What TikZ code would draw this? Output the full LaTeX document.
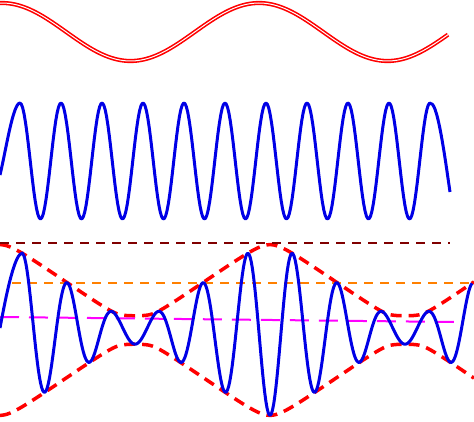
\documentclass[tikz,border=0pt]{standalone}
\usepackage{tikz}
\definecolor{wavered}{RGB}{255,0,0}
\definecolor{waveblue}{RGB}{0,0,230}
\definecolor{levelred}{RGB}{128,0,0}
\definecolor{levelorange}{RGB}{255,128,0}
\definecolor{levelmagenta}{RGB}{255,0,255}

\begin{document}
\begin{tikzpicture}[
    x=1pt, y=-1pt,
    declare function={envraw(\t)=47+48*asin(0.95*cos(4*\t/3))/90;
                      env(\t)=(envraw(\t)+13.5+sqrt((envraw(\t)-13.5)^2+16))/2;},
    modwave/.style={draw=wavered, line width=1.6pt, double=white, double distance=1pt},
    carrier/.style={draw=waveblue, line width=3pt, line join=round},
    envline/.style={draw=wavered, line width=3.5pt, dash pattern=on 11pt off 7pt},
    level/.style={draw=#1, line width=2pt, dash pattern=on 9pt off 7pt}
]
\useasboundingbox (0,0) rectangle (474,422);

% modulating signal
\draw[modwave] plot[domain=0:448, samples=150] (\x, {32 - 29*cos(1.4008*(\x-2))});

% carrier
\draw[carrier] (0,175) .. controls (6,150) and (13,103) .. (20,103)
    -- plot[domain=20:431, samples=300] (\x, {161 - 58*cos(8.7805*(\x-20))})
    .. controls (438,103) and (446,165) .. (450,192);

% envelope of the modulated signal
\draw[envline] plot[domain=0:474, samples=200] (\x, {330 - env(\x)});
\draw[envline] plot[domain=0:474, samples=200] (\x, {330 + env(\x)});

% levels
\draw[level=levelred] (0,243) -- (450,243);
\draw[level=levelorange] (12,283) -- (474,283);
\draw[level=levelmagenta, dash pattern=on 19pt off 10pt] (0,317) -- (454,322);

% modulated signal
\draw[carrier] (0,328) .. controls (7,290) and (15,253) .. (22.5,253)
    -- plot[domain=22.5:472, samples=400] (\x, {330 + env(\x)*cos(8*(\x-270))});
\end{tikzpicture}
\end{document}
